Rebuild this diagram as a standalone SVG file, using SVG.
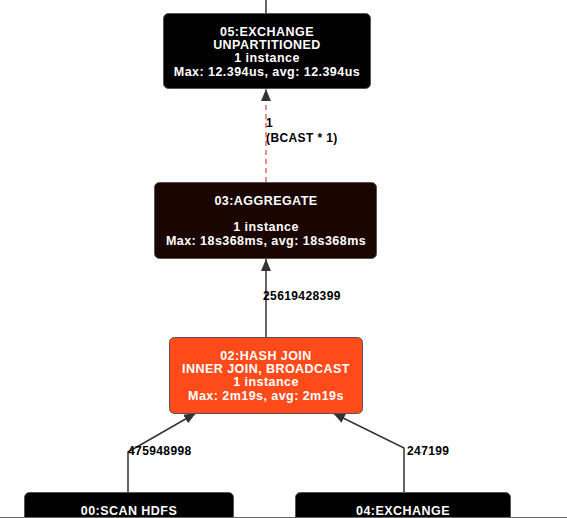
<svg xmlns="http://www.w3.org/2000/svg" width="567" height="518" viewBox="0 0 567 518">
<style>
.node rect{stroke:#555;stroke-width:1}
.nt{font-family:"Liberation Sans",Arial,sans-serif;font-weight:bold;font-size:12.5px;letter-spacing:0.45px;fill:#fff;text-anchor:middle}
.lbl{font-family:"Liberation Sans",Arial,sans-serif;font-weight:bold;font-size:12px;letter-spacing:0.4px;fill:#000}
.e{fill:none;stroke:#333;stroke-width:1.5}
.ed{fill:none;stroke:#e07070;stroke-width:1.6;stroke-dasharray:5,4}
</style>
<defs>
<marker id="ah" markerUnits="userSpaceOnUse" markerWidth="13" markerHeight="11" refX="12" refY="5.5" orient="auto" viewBox="0 0 13 11">
<path d="M0,0.5 L12,5.5 L0,10.5 z" fill="#333"/>
</marker>
</defs>
<rect x="0" y="0" width="567" height="518" fill="#fff"/>
<g id="connectors">
<line class="e" x1="266" y1="0" x2="266" y2="13"/>
<line class="ed" x1="266" y1="182" x2="266" y2="89" marker-end="url(#ah)"/>
<line class="e" x1="266" y1="337" x2="266" y2="259" marker-end="url(#ah)"/>
<polyline class="e" points="128,492 128,452 196,413" marker-end="url(#ah)"/>
<polyline class="e" points="404,492 404,448 333,413" marker-end="url(#ah)"/>
<text class="lbl" x="266" y="127">1</text>
<text class="lbl" x="266" y="142">(BCAST * 1)</text>
<text class="lbl" x="263" y="299.5">25619428399</text>
<text class="lbl" x="128" y="454.5">475948998</text>
<text class="lbl" x="407" y="454.5">247199</text>
</g>
<g id="node05" class="node">
<rect x="163.5" y="13.5" width="207" height="75" rx="5" fill="#000"/>
<text class="nt" x="267" y="35.5">05:EXCHANGE</text>
<text class="nt" x="267" y="49">UNPARTITIONED</text>
<text class="nt" x="267" y="62">1 instance</text>
<text class="nt" x="267" y="75.5">Max: 12.394us, avg: 12.394us</text>
</g>
<g id="node03" class="node">
<rect x="154.5" y="182.5" width="222" height="76" rx="5" fill="#1a0500"/>
<text class="nt" x="266" y="204.5">03:AGGREGATE</text>
<text class="nt" x="266" y="231">1 instance</text>
<text class="nt" x="266" y="244.5">Max: 18s368ms, avg: 18s368ms</text>
</g>
<g id="node02" class="node">
<rect x="169.5" y="337.5" width="193" height="76" rx="5" fill="#ff4a1a"/>
<text class="nt" x="266" y="359.5">02:HASH JOIN</text>
<text class="nt" x="266" y="372.5">INNER JOIN, BROADCAST</text>
<text class="nt" x="266" y="386">1 instance</text>
<text class="nt" x="266" y="399.5">Max: 2m19s, avg: 2m19s</text>
</g>
<g id="node00" class="node">
<rect x="24.5" y="492.5" width="209" height="40" rx="5" fill="#000"/>
<text class="nt" x="129" y="515">00:SCAN HDFS</text>
</g>
<g id="node04" class="node">
<rect x="295.5" y="492.5" width="215" height="40" rx="5" fill="#000"/>
<text class="nt" x="403" y="515">04:EXCHANGE</text>
</g>
<line x1="0" y1="517.5" x2="567" y2="517.5" stroke="#666" stroke-width="1"/>
</svg>
